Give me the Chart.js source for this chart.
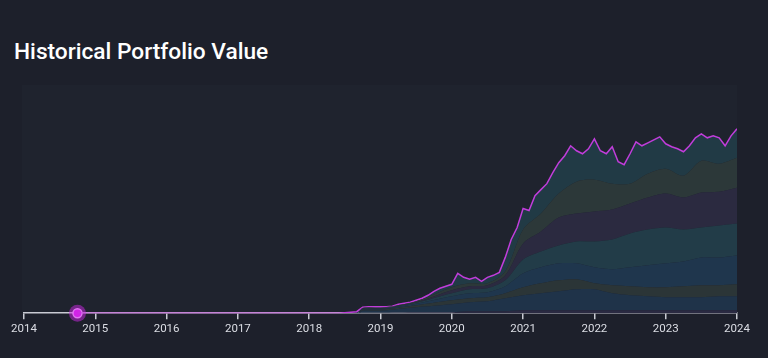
<!DOCTYPE html>
<html>
<head>
<meta charset="utf-8">
<script src="https://cdn.jsdelivr.net/npm/chart.js@4/dist/chart.umd.min.js"></script>
<style>
    html, body { margin: 0; padding: 0; background: #1d202b; }
    .wrap { position: relative; width: 768px; height: 358px; }
    .title {
        position: absolute; left: 14px; top: 38px;
        font-family: Roboto, sans-serif; font-weight: 500; font-size: 22.7px; line-height: 27px;
        color: #ffffff; white-space: nowrap;
    }
    canvas { position: absolute; left: 0; top: 0; }
</style>
</head>
<body>
<div class="wrap">
    <div class="title">Historical Portfolio Value</div>
    <canvas id="portfolioChart" width="768" height="358"></canvas>
</div>
<script>
// Total portfolio value (k$), monthly
const months = ['2014-10', '2018-06', '2018-07', '2018-08', '2018-09', '2018-10', '2018-11', '2018-12',
    '2019-01', '2019-02', '2019-03', '2019-04', '2019-05', '2019-06', '2019-07', '2019-08', '2019-09', '2019-10', '2019-11', '2019-12',
    '2020-01', '2020-02', '2020-03', '2020-04', '2020-05', '2020-06', '2020-07', '2020-08', '2020-09', '2020-10', '2020-11', '2020-12',
    '2021-01', '2021-02', '2021-03', '2021-04', '2021-05', '2021-06', '2021-07', '2021-08', '2021-09', '2021-10', '2021-11', '2021-12',
    '2022-01', '2022-02', '2022-03', '2022-04', '2022-05', '2022-06', '2022-07', '2022-08', '2022-09', '2022-10', '2022-11', '2022-12',
    '2023-01', '2023-02', '2023-03', '2023-04', '2023-05', '2023-06', '2023-07', '2023-08', '2023-09', '2023-10', '2023-11', '2023-12',
    '2024-01'];
const totalValue = [0, 0, 0.5, 1, 1.5, 6, 6.5, 6.5,
    6.5, 6.5, 7, 9, 10, 11, 13, 15, 18, 22, 25, 27,
    29, 40, 36, 34, 36, 32, 36, 38, 41, 56, 74, 86,
    105, 103, 118, 124, 130, 141, 151, 158, 168, 163, 160, 165,
    175, 163, 160, 167, 152, 149, 160, 172, 168, 171, 174, 177,
    170, 167, 165, 162, 168, 176, 180, 176, 178, 176, 168, 178,
    185];

// Holdings stacked underneath (cumulative tops, k$), quarterly
const layerMonths = ['2014-10', '2018-09', '2018-10', '2019-01', '2019-07', '2020-01', '2020-04', '2020-07', '2020-10',
    '2021-01', '2021-04', '2021-07', '2021-10', '2022-01', '2022-04', '2022-07', '2022-10',
    '2023-01', '2023-04', '2023-07', '2023-10', '2024-01'];
const layer1 = [0, 0, 0.5, 0.5, 1, 1, 2, 2, 2, 3, 3, 3, 3, 3, 3, 3, 3, 3, 3, 3, 3, 3];
const layer2 = [0, 0, 2.5, 2.5, 6, 9, 11, 12, 15, 18, 20, 22, 24, 24, 20, 18, 17, 16, 16, 16, 17, 17];
const layer3 = [0, 0, 3.5, 3.5, 8, 13, 15, 16, 20, 26, 30, 33, 34, 30, 28, 27, 26, 26, 27, 28, 28, 29];
const layer4 = [0, 0, 4, 4, 9.5, 17, 20, 21, 27, 40, 46, 50, 50, 46, 44, 46, 48, 50, 52, 56, 56, 58];
const layer5 = [0, 0, 4.5, 4.5, 10.5, 20, 24, 25, 33, 54, 62, 68, 72, 72, 74, 80, 84, 86, 84, 86, 88, 90];
const layer6 = [0, 0, 5, 5, 11, 23, 27, 28, 38, 70, 82, 96, 100, 102, 104, 110, 116, 120, 116, 121, 122, 126];
const layer7 = [0, 0, 5.5, 5.5, 12, 26, 30, 30, 42, 84, 100, 120, 132, 134, 130, 130, 140, 145, 138, 153, 150, 156];

const layers = [layer1, layer2, layer3, layer4, layer5, layer6, layer7];
const layerColors = ['#2a2a42', '#1f3349', '#2b3537', '#1f364d', '#223c48', '#2b2a40', '#2c3839'];
const topColor = '#213a45';

const yearTicks = [2014, 2015, 2016, 2017, 2018, 2019, 2020, 2021, 2022, 2023, 2024];
const hoverMonth = '2014-10';

function toYear(m) {
    const [y, mo] = m.split('-').map(Number);
    return y + (mo - 1) / 12;
}

const plotBg = {
    id: 'plotBg',
    beforeDraw(chart) {
        const { ctx, chartArea: a } = chart;
        ctx.save();
        ctx.fillStyle = '#1f232e';
        ctx.fillRect(a.left - 2, a.top, a.right - a.left + 2, a.bottom - a.top);
        ctx.restore();
    }
};

const datasets = layers.map((vals, i) => ({
    data: vals.map((v, j) => ({ x: toYear(layerMonths[j]), y: v })),
    borderWidth: 0,
    pointRadius: 0,
    backgroundColor: layerColors[i],
    fill: i === 0 ? 'origin' : '-1',
    tension: 0.3
}));

datasets.push({
    data: totalValue.map((v, j) => ({ x: toYear(months[j]), y: v })),
    borderColor: '#c13ddb',
    borderWidth: 1.5,
    pointRadius: 0,
    backgroundColor: topColor,
    fill: '-1',
    tension: 0
});

// hovered point: halo + dot
datasets.push({
    data: [{ x: toYear(hoverMonth), y: totalValue[0] }],
    showLine: false,
    pointRadius: 8.5,
    pointBackgroundColor: 'rgba(205, 40, 230, 0.5)',
    pointBorderWidth: 0,
    clip: false
});
datasets.push({
    data: [{ x: toYear(hoverMonth), y: totalValue[0] }],
    showLine: false,
    pointRadius: 4.5,
    pointBackgroundColor: '#d61fe8',
    pointBorderColor: '#f4c2ff',
    pointBorderWidth: 1.5,
    clip: false
});

new Chart(document.getElementById('portfolioChart'), {
    type: 'line',
    data: { datasets },
    plugins: [plotBg],
    options: {
        responsive: false,
        animation: false,
        events: [],
        layout: { padding: { left: 24, right: 31, top: 85, bottom: 19 } },
        plugins: { legend: { display: false }, tooltip: { enabled: false } },
        scales: {
            x: {
                type: 'linear',
                min: 2014,
                max: 2024,
                afterBuildTicks: scale => { scale.ticks = yearTicks.map(v => ({ value: v })); },
                ticks: {
                    color: '#dcdee5',
                    font: { family: 'Roboto', size: 11.5 },
                    padding: 3,
                    maxRotation: 0,
                    callback: v => String(v)
                },
                grid: { drawOnChartArea: false, tickLength: 6, color: '#c9cbd3', lineWidth: 1.5 },
                border: { color: '#c9cbd3', width: 1.5 }
            },
            y: {
                display: false,
                min: 0,
                max: 229
            }
        }
    }
});
</script>
</body>
</html>
